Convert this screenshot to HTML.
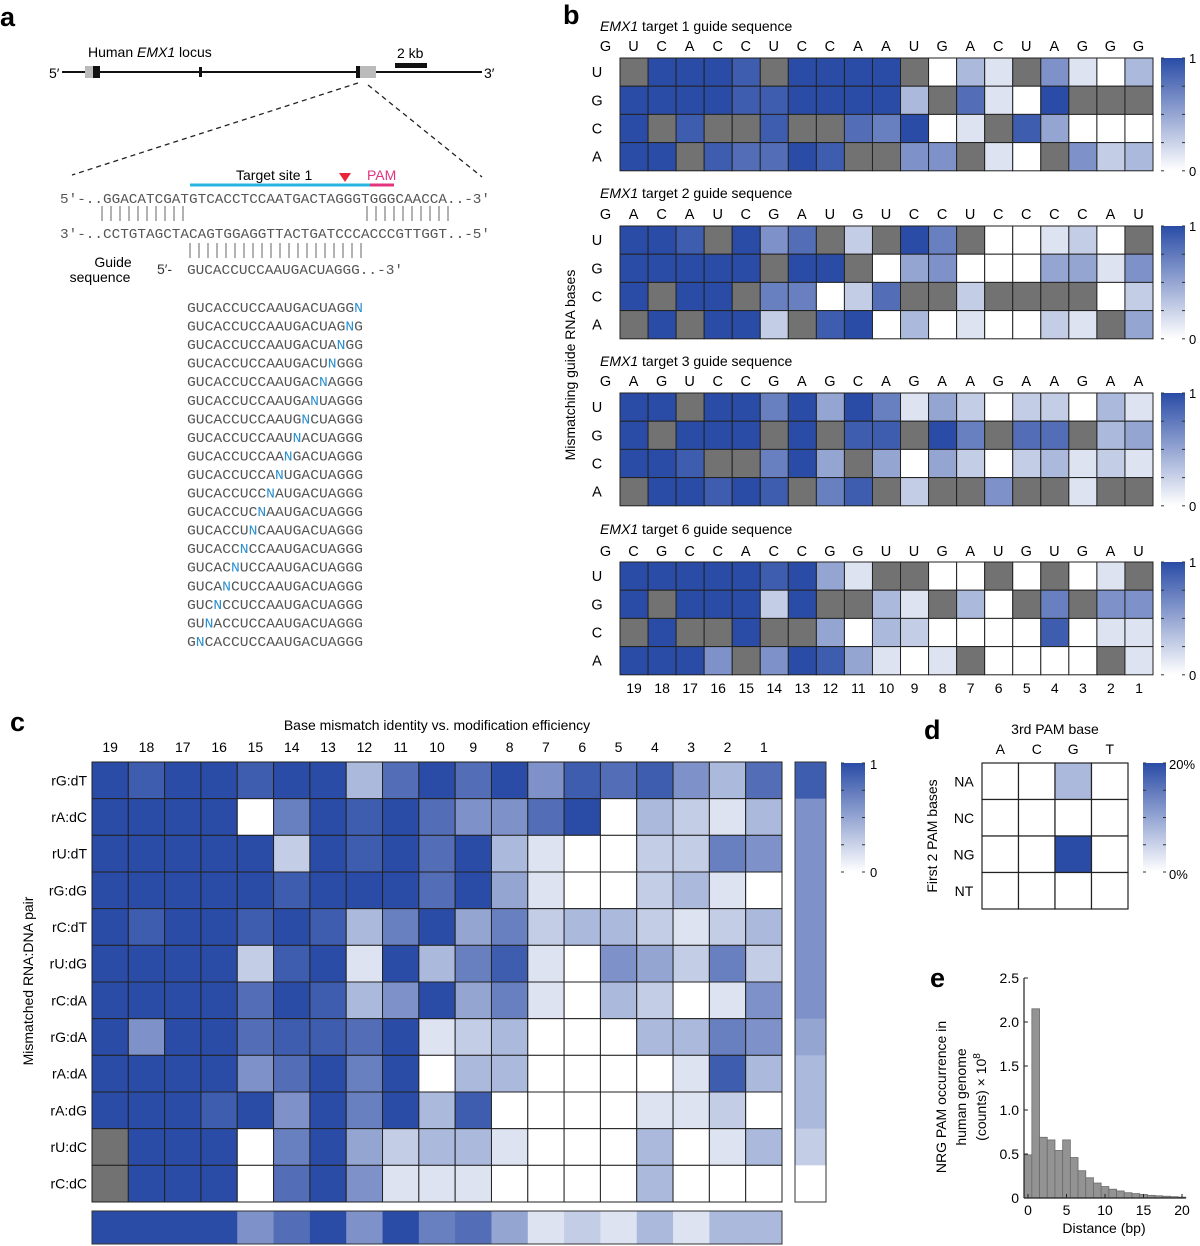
<!DOCTYPE html>
<html><head><meta charset="utf-8"><style>
html,body{margin:0;padding:0;background:#fff;}
svg{display:block;font-family:"Liberation Sans",sans-serif;}
.mono{font-family:"Liberation Mono",monospace;fill:#555;}
</style></head><body>
<svg id="fig" width="1200" height="1246" viewBox="0 0 1200 1246" xmlns="http://www.w3.org/2000/svg">
<defs>
<linearGradient id="cbg" x1="0" y1="1" x2="0" y2="0"><stop offset="0" stop-color="#fff"/><stop offset="1" stop-color="#2a4ca6"/></linearGradient>
</defs>
<text x="0" y="26" font-size="27" font-weight="bold">a</text>
<text x="563" y="24" font-size="27" font-weight="bold">b</text>
<text x="10" y="731" font-size="27" font-weight="bold">c</text>
<text x="924" y="739" font-size="27" font-weight="bold">d</text>
<text x="930" y="987" font-size="27" font-weight="bold">e</text>

<g id="pa">
<text x="88" y="57" font-size="14">Human <tspan font-style="italic">EMX1</tspan> locus</text>
<text x="397" y="58" font-size="14">2 kb</text>
<rect x="395" y="63" width="32" height="5" fill="#111"/>
<text x="49" y="78" font-size="14">5′</text>
<text x="484" y="78" font-size="14">3′</text>
<line x1="62" y1="72" x2="482" y2="72" stroke="#111" stroke-width="2"/>
<rect x="85" y="66" width="10" height="12" fill="#bbb"/>
<rect x="93" y="66" width="7" height="12" fill="#111"/>
<rect x="199" y="67" width="3" height="10" fill="#111"/>
<rect x="356" y="66" width="4" height="12" fill="#111"/>
<rect x="360" y="66" width="16" height="12" fill="#bbb"/>
<line x1="358" y1="83" x2="72" y2="175" stroke="#222" stroke-width="1.3" stroke-dasharray="5,4"/>
<line x1="368" y1="85" x2="482" y2="177" stroke="#222" stroke-width="1.3" stroke-dasharray="5,4"/>
<text x="236" y="180" font-size="14">Target site 1</text>
<polygon points="339,173 351,173 345,182" fill="#e8253a"/>
<text x="367" y="180" font-size="14" fill="#e3337f">PAM</text>
<line x1="190" y1="185" x2="370" y2="185" stroke="#2ab4e0" stroke-width="3"/>
<line x1="370" y1="185" x2="394" y2="185" stroke="#e3337f" stroke-width="3"/>
<text x="60" y="203" font-size="14" class="mono" textLength="430" lengthAdjust="spacingAndGlyphs">5′-..GGACATCGATGTCACCTCCAATGACTAGGGTGGGCAACCA..-3′</text>
<text x="60" y="238" font-size="14" class="mono" textLength="430" lengthAdjust="spacingAndGlyphs">3′-..CCTGTAGCTACAGTGGAGGTTACTGATCCCACCCGTTGGT..-5′</text>
<g id="pairbars" stroke="#666" stroke-width="1"></g>
<text x="113" y="267" font-size="14" text-anchor="middle">Guide</text>
<text x="100" y="282" font-size="14" text-anchor="middle">sequence</text>
<text x="157" y="274" font-size="14" fill="#333">5′-</text>
<text x="187" y="274" font-size="14" class="mono" textLength="216" lengthAdjust="spacingAndGlyphs">GUCACCUCCAAUGACUAGGG..-3′</text>
<g id="mmlist"></g>
</g>

<g id="pb">
<text transform="translate(575,365) rotate(-90)" font-size="14" text-anchor="middle">Mismatching guide RNA bases</text>
</g>
<g id="pc">
<text x="437" y="730" font-size="14" text-anchor="middle">Base mismatch identity vs. modification efficiency</text>
<text transform="translate(33,981) rotate(-90)" font-size="14" text-anchor="middle">Mismatched RNA:DNA pair</text>
</g>
<g id="pd">
<text x="1055" y="734" font-size="14" text-anchor="middle">3rd PAM base</text>
<text transform="translate(937,836) rotate(-90)" font-size="14" text-anchor="middle">First 2 PAM bases</text>
</g>
<g id="pe">
<text transform="translate(946,1097) rotate(-90)" font-size="14" text-anchor="middle">NRG PAM occurrence in</text>
<text transform="translate(966,1097) rotate(-90)" font-size="14" text-anchor="middle">human genome</text>
<text transform="translate(986,1097) rotate(-90)" font-size="14" text-anchor="middle">(counts) × 10<tspan dy="-6" font-size="10">8</tspan></text>
<text x="1104" y="1233" font-size="14" text-anchor="middle">Distance (bp)</text>
</g>
</svg>
<script>
const guideBase = "GUCACCUCCAAUGACUAGGG";
const positions = [19,18,17,16,15,14,13,12,11,10,9,8,7,6,5,4,3,2,1];
const baseRows = ["U","G","C","A"];
const t1Title = "target 1 guide sequence";
const t1Seq = "GUCACCUCCAAUGACUAGGG";
const t1Vals = ["x 9 9 9 8 x 9 9 9 9 x 0 3 1 x 5 1 0 3","9 9 9 9 8 8 9 9 9 9 3 x 7 1 0 9 x x x","9 x 8 x x 8 x x 7 6 9 0 1 x 8 4 0 0 0","9 9 x 8 7 7 9 8 x x 5 5 x 1 0 x 5 2 3"];
const t2Title = "target 2 guide sequence";
const t2Seq = "GACAUCGAUGUCCUCCCCAU";
const t2Vals = ["9 9 8 x 9 5 7 x 2 x 9 6 x 0 0 1 2 0 x","9 9 9 9 9 x 9 9 x 0 4 5 0 0 0 4 4 1 5","9 x 9 9 x 6 6 0 2 7 x x 2 x x x x 0 2","x 9 x 9 9 2 x 8 9 0 3 0 1 0 0 2 1 x 4"];
const t3Title = "target 3 guide sequence";
const t3Seq = "GAGUCCGAGCAGAAGAAGAA";
const t3Vals = ["9 9 x 9 9 6 9 4 9 6 1 4 2 0 2 2 0 3 1","9 x 9 9 9 x 9 x 8 8 x 9 6 x 7 7 x 3 4","9 9 8 x x 6 9 4 x 4 0 4 2 0 2 3 1 2 1","x 9 9 8 9 8 x 6 8 x 2 x x 5 x x 1 x x"];
const t6Title = "target 6 guide sequence";
const t6Seq = "GCGCCACCGGUUGAUGUGAU";
const t6Vals = ["9 9 9 9 9 8 9 4 1 x x 0 0 x 0 x 0 1 x","9 x 9 9 9 2 9 x x 3 1 x 3 0 x 6 x 5 5","x 9 x x 9 x x 4 0 3 2 0 0 0 0 8 0 1 1","9 9 9 5 x 5 9 8 4 1 0 1 x 0 0 0 0 x 1"];
const pairLabels = ["rG:dT","rA:dC","rU:dT","rG:dG","rC:dT","rU:dG","rC:dA","rG:dA","rA:dA","rA:dG","rU:dC","rC:dC"];
const pairVals = [
"9 8 9 9 8 9 9 3 7 9 7 9 5 8 7 8 5 3 7",
"9 9 9 9 0 6 9 8 9 7 5 5 7 9 0 3 2 1 3",
"9 9 9 9 9 2 9 8 9 7 9 3 1 0 0 2 2 6 5",
"9 9 9 9 9 8 9 9 9 7 9 4 1 0 0 2 3 1 0",
"9 8 9 9 8 9 8 3 6 9 4 6 2 3 3 2 1 2 3",
"9 9 9 9 2 8 9 1 9 3 6 8 1 0 5 4 2 6 2",
"9 9 9 9 7 9 8 3 5 9 4 6 1 0 3 2 0 1 5",
"9 5 9 9 7 8 8 7 9 1 2 3 0 0 0 3 3 6 5",
"9 9 9 9 5 7 9 6 9 0 3 3 0 0 0 0 1 8 3",
"9 9 9 8 9 5 9 6 9 3 8 0 0 0 0 1 1 2 0",
"x 9 9 9 0 6 9 4 2 3 3 1 0 0 0 3 0 1 3",
"x 9 9 9 0 7 9 5 1 1 1 0 0 0 0 3 0 0 0"];
const positionMeans = [9,9,9,9,5,7,9,5,9,6,7,4,1,2,1,3,1,3,3];
const pairMeans = [8,5,5,5,5,5,5,4,3,3,2,0];
const pamCols = ["A","C","G","T"];
const pamRows = ["NA","NC","NG","NT"];
const pamVals = [[0,0,3,0],[0,0,0,0],[0,0,9,0],[0,0,0,0]];
const histBins = [0,1,2,3,4,5,6,7,8,9,10,11,12,13,14,15,16,17,18,19,20];
const histCounts = [0.49,2.15,0.69,0.66,0.54,0.66,0.46,0.31,0.23,0.17,0.13,0.10,0.08,0.06,0.05,0.04,0.03,0.025,0.02,0.015,0.01];
const histYTicks = [0,0.5,1.0,1.5,2.0,2.5];
const histYTickLabels = ["0","0.5","1.0","1.5","2.0","2.5"];
const histXTicks = [0,5,10,15,20];

const NS="http://www.w3.org/2000/svg";
function mk(tag,attrs,parent){const e=document.createElementNS(NS,tag);for(const k in attrs)e.setAttribute(k,attrs[k]);(parent||document.getElementById('fig')).appendChild(e);return e;}
function parseRow(s){s=s.replace(/ /g,"");return s.split("");}
function col(v){if(v==="x")return "#727272";const t=Math.pow((+v)/9,0.85);const r=Math.round(255-t*213),g=Math.round(255-t*179),b=Math.round(255-t*89);return `rgb(${r},${g},${b})`;}

const pb=document.getElementById('pairbars');
for(let i=0;i<10;i++){const l=mk('line',{x1:102+i*9,y1:206,x2:102+i*9,y2:221},pb);}
for(let i=0;i<10;i++){const l=mk('line',{x1:367+i*9,y1:206,x2:367+i*9,y2:221},pb);}
for(let i=0;i<20;i++){const l=mk('line',{x1:190+i*9,y1:243,x2:190+i*9,y2:258},pb);}
const ml=document.getElementById('mmlist');
for(let i=0;i<19;i++){
  const p=19-i;
  const t=mk('text',{x:187,y:312+i*18.55,'font-size':13.5,class:'mono',textLength:176,lengthAdjust:'spacingAndGlyphs'},ml);
  
  
  const a=document.createElementNS(NS,'tspan');a.textContent=guideBase.slice(0,p);t.appendChild(a);
  const n=document.createElementNS(NS,'tspan');n.textContent="N";n.setAttribute('fill','#2a8fd0');t.appendChild(n);
  const c=document.createElementNS(NS,'tspan');c.textContent=guideBase.slice(p+1);t.appendChild(c);
}

const bX0=620,bX1=1153,bCW=(bX1-bX0)/19;
const bPanels=[{title:t1Title,seq:t1Seq,vals:t1Vals,top:58,ty:31,sy:51},{title:t2Title,seq:t2Seq,vals:t2Vals,top:226,ty:198,sy:219},{title:t3Title,seq:t3Seq,vals:t3Vals,top:393,ty:366,sy:386},{title:t6Title,seq:t6Seq,vals:t6Vals,top:562,ty:534,sy:556}];
const bRH=28.2;
const pbG=document.getElementById('pb');
bPanels.forEach((P,pi)=>{
  const g=mk('g',{},pbG);
  
  
  const tt=mk('text',{x:600,y:P.ty,'font-size':14},g);
  
  
  const it=document.createElementNS(NS,'tspan');it.setAttribute('font-style','italic');it.textContent='EMX1';tt.appendChild(it);
  const rt=document.createElementNS(NS,'tspan');rt.textContent=' '+P.title;tt.appendChild(rt);
  P.seq.split("").forEach((ch,ci)=>{const t=mk('text',{x:bX0+(ci-0.5)*bCW-0.5,y:P.sy,'font-size':14.5,'text-anchor':'middle'},g);t.textContent=ch;
    
    });
  baseRows.forEach((b,ri)=>{const t=mk('text',{x:597,y:P.top+(ri+0.5)*bRH+5,'font-size':14.5,'text-anchor':'middle'},g);t.textContent=b;
    
    
    parseRow(P.vals[ri]).forEach((v,ci)=>{const r=mk('rect',{x:bX0+ci*bCW,y:P.top+ri*bRH,width:bCW,height:bRH,fill:col(v),stroke:'#222','stroke-width':1},g);
      
      });
  });
  const cb=mk('rect',{x:1161,y:P.top,width:24,height:4*bRH,fill:'url(#cbg)'},g);
  
  
  for(let k=0;k<=4;k++){mk('line',{x1:1161,x2:1164,y1:P.top+k*bRH,y2:P.top+k*bRH,stroke:'#333','stroke-width':1},g);mk('line',{x1:1182,x2:1185,y1:P.top+k*bRH,y2:P.top+k*bRH,stroke:'#333','stroke-width':1},g);}
  const l1=mk('text',{x:1189,y:P.top+5,'font-size':13},g);l1.textContent='1';
  
  
  const l0=mk('text',{x:1189,y:P.top+4*bRH+5,'font-size':13},g);l0.textContent='0';
  
  
});
positions.forEach((p,ci)=>{const t=mk('text',{x:bX0+(ci+0.5)*bCW,y:693,'font-size':14,'text-anchor':'middle'},pbG);t.textContent=p;
  
  });

const pcG=document.getElementById('pc');
const cX0=92,cX1=782,cCW=(cX1-cX0)/19,cY0=762,cRH=(1202-762)/12;
positions.forEach((p,ci)=>{const t=mk('text',{x:cX0+(ci+0.5)*cCW,y:752,'font-size':14,'text-anchor':'middle'},pcG);t.textContent=p;
  
  });
pairLabels.forEach((lab,ri)=>{
  const t=mk('text',{x:87,y:cY0+(ri+0.5)*cRH+5,'font-size':14,'text-anchor':'end'},pcG);t.textContent=lab;
  
  
  parseRow(pairVals[ri]).forEach((v,ci)=>{const r=mk('rect',{x:cX0+ci*cCW,y:cY0+ri*cRH,width:cCW,height:cRH,fill:col(v),stroke:'#222','stroke-width':1},pcG);
    
    });
});
positionMeans.forEach((v,ci)=>{const r=mk('rect',{x:cX0+ci*cCW,y:1211,width:cCW+0.5,height:33,fill:col(v)},pcG);
  
  });
mk('rect',{x:cX0,y:1211,width:cX1-cX0,height:33,fill:'none',stroke:'#333','stroke-width':1},pcG);
pairMeans.forEach((v,ri)=>{const r=mk('rect',{x:795,y:cY0+ri*cRH,width:31,height:cRH+0.5,fill:col(v)},pcG);
  
  });
mk('rect',{x:795,y:cY0,width:31,height:12*cRH,fill:'none',stroke:'#333','stroke-width':1},pcG);
{const cb=mk('rect',{x:841,y:763,width:24,height:109,fill:'url(#cbg)'},pcG);
 
 
 for(let k=0;k<=4;k++){const yy=763+k*109/4;mk('line',{x1:841,x2:844,y1:yy,y2:yy,stroke:'#333'},pcG);mk('line',{x1:862,x2:865,y1:yy,y2:yy,stroke:'#333'},pcG);}
 const a=mk('text',{x:870,y:769,'font-size':13},pcG);a.textContent='1';
 
 
 const b=mk('text',{x:870,y:877,'font-size':13},pcG);b.textContent='0';
 
 }

const pdG=document.getElementById('pd');
const dX0=982,dY0=763,dS=36.5;
pamCols.forEach((c,ci)=>{const t=mk('text',{x:dX0+(ci+0.5)*dS,y:754,'font-size':14,'text-anchor':'middle'},pdG);t.textContent=c;
  
  });
pamRows.forEach((rl,ri)=>{const t=mk('text',{x:964,y:dY0+(ri+0.5)*dS+5,'font-size':14,'text-anchor':'middle'},pdG);t.textContent=rl;
  
  
  pamVals[ri].forEach((v,ci)=>{const r=mk('rect',{x:dX0+ci*dS,y:dY0+ri*dS,width:dS,height:dS,fill:col(v),stroke:'#222','stroke-width':1.2},pdG);
    
    });
});
{const cb=mk('rect',{x:1143,y:763,width:23,height:109,fill:'url(#cbg)'},pdG);
 
 
 for(let k=0;k<=4;k++){const yy=763+k*109/4;mk('line',{x1:1143,x2:1146,y1:yy,y2:yy,stroke:'#333'},pdG);mk('line',{x1:1163,x2:1166,y1:yy,y2:yy,stroke:'#333'},pdG);}
 const a=mk('text',{x:1169,y:769,'font-size':13},pdG);a.textContent='20%';
 
 
 const b=mk('text',{x:1169,y:879,'font-size':13},pdG);b.textContent='0%';
 
 }

const peG=document.getElementById('pe');
const ex=v=>1028+v*7.7, ey=v=>1198-v*88;
histBins.forEach((b,i)=>{const r=mk('rect',{x:ex(b-0.5),y:ey(histCounts[i]),width:7.7,height:ey(0)-ey(histCounts[i]),fill:'#939393',stroke:'#6a6a6a','stroke-width':0.8},peG);
  
  });
mk('line',{x1:1024,y1:ey(2.5),x2:1024,y2:ey(0),stroke:'#222','stroke-width':1.2},peG);
mk('line',{x1:1024,y1:ey(0),x2:ex(20.5),y2:ey(0),stroke:'#222','stroke-width':1.2},peG);
histYTicks.forEach((v,i)=>{mk('line',{x1:1024,x2:1028,y1:ey(v),y2:ey(v),stroke:'#222'},peG);
  const t=mk('text',{x:1019,y:ey(v)+5,'font-size':14,'text-anchor':'end'},peG);t.textContent=histYTickLabels[i];
  
  });
histXTicks.forEach(v=>{mk('line',{x1:ex(v),x2:ex(v),y1:ey(0),y2:ey(0)-4,stroke:'#222'},peG);
  const t=mk('text',{x:ex(v),y:1215,'font-size':14,'text-anchor':'middle'},peG);t.textContent=v;
  
  });
</script>
</body></html>
